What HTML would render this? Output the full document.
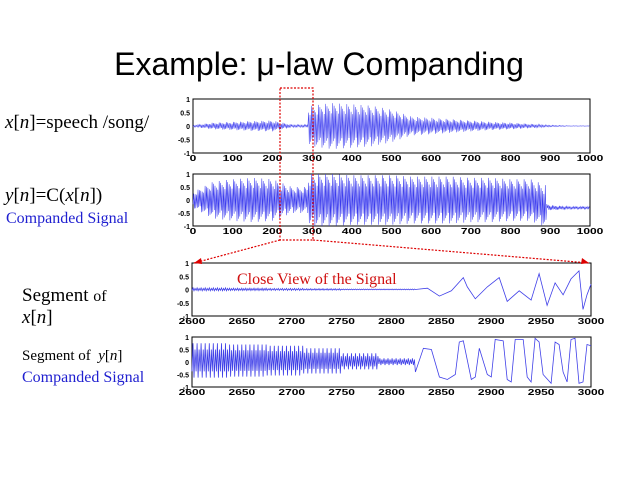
<!DOCTYPE html>
<html><head><meta charset="utf-8"><style>
body{margin:0;background:#fff;width:638px;height:478px;overflow:hidden;font-family:"Liberation Serif",serif}
.t{position:absolute;white-space:nowrap}
</style></head><body>
<div style="position:relative;width:638px;height:478px">
<div class="t" style="left:0;width:638px;text-align:center;top:46px;font-family:'Liberation Sans',sans-serif;font-size:32px">Example: μ-law Companding</div>
<div class="t" style="left:5px;top:112px;font-size:19px"><i>x</i>[<i>n</i>]=speech /song/</div>
<div class="t" style="left:5px;top:185px;font-size:19px"><i>y</i>[<i>n</i>]=C(<i>x</i>[<i>n</i>])</div>
<div class="t" style="left:6px;top:210px;font-size:16px;color:#1f1fd0">Companded Signal</div>
<div class="t" style="left:22px;top:285px;font-size:19px">Segment <span style="font-size:16px">of</span><br><i>x</i>[<i>n</i>]</div>
<div class="t" style="left:22px;top:348px;font-size:15px">Segment of&nbsp; <i>y</i>[<i>n</i>]</div>
<div class="t" style="left:22px;top:369px;font-size:16px;color:#1f1fd0">Companded Signal</div>
<svg id="s" width="638" height="478" style="position:absolute;left:0;top:0"></svg>
</div>
<script>
const env1=[0.03,0.12,0.15,0.18,0.2,0.05,0.75,0.85,0.8,0.75,0.6,0.35,0.3,0.25,0.2,0.15,0.12,0.08,0.03,0.01];
const env2=[0.3,0.7,0.8,0.85,0.8,0.5,1,1,0.95,0.95,0.95,0.9,0.9,0.9,0.85,0.85,0.8,0.8,0.1,0.05];
const ctr2=[0,0,0,0,0,0,0,0,0,0,0,0,0,0,0,0,0,0,-0.3,-0.3];
const ticks1=["0","100","200","300","400","500","600","700","800","900","1000"];
const ticksSeg=["2600","2650","2700","2750","2800","2850","2900","2950","3000"];
const yTicks=["1","0.5","0","-0.5","-1"];
const seg3Noise=[0.06,0.05,0.04,0.03,0.02,0.02];
const seg3Idx=[56,59,62,65,68,69,71,74,77,79,82,85,87,89,91,93,95,97,98,99,100];
const seg3Val=[0,0.05,-0.25,-0.05,0.45,0.1,-0.35,0.1,0.45,-0.45,-0.05,-0.4,0.6,-0.6,0.25,-0.2,0.4,0.7,-0.75,-0.2,0.2];
const seg4Noise=[0.75,0.7,0.65,0.55,0.35,0.15];
const seg4Idx=[56,58,60,62,64,66,67,68,70,71,72,74,75,76,78,79,80,81,83,84,85,86,87,88,90,91,92,93,94,95,96,97,98,99,100];
const seg4Val=[-0.4,0.55,0.5,-0.6,-0.7,-0.5,0.8,0.85,-0.7,-0.6,0.55,-0.5,-0.6,0.9,0.85,-0.7,-0.8,0.9,0.9,-0.6,-0.8,0.95,0.8,-0.5,-0.85,0.8,0.7,-0.4,-0.8,0.9,0.95,-0.85,-0.8,0.7,0.65];
const NS="http://www.w3.org/2000/svg",svg=document.getElementById('s');
function mk(t,a,p){const e=document.createElementNS(NS,t);for(const k in a)e.setAttribute(k,a[k]);(p||svg).appendChild(e);return e;}
const plots=[{x0:193,x1:590,y0:99,y1:153,n:'plot-x'},{x0:193,x1:590,y0:174,y1:226,n:'plot-y'},{x0:192,x1:591,y0:263,y1:316,n:'plot-seg-x'},{x0:192,x1:591,y0:337,y1:387,n:'plot-seg-y'}];
function frame(p,ticks){
 const g=mk('g',{});
 
 
 const r=mk('rect',{x:p.x0,y:p.y0,width:p.x1-p.x0,height:p.y1-p.y0,fill:'none',stroke:'#000','stroke-width':1},g);
 
 ticks.forEach((t,i)=>{const x=p.x0+(p.x1-p.x0)*i/(ticks.length-1);
  const tx=mk('text',{x:x,y:p.y1+8,'font-size':8,'font-weight':'bold','text-anchor':'middle','font-family':'Liberation Sans,sans-serif',transform:`translate(${x},0) scale(1.5,1) translate(${-x},0)`},g);
  tx.textContent=t;});
 yTicks.forEach((t,i)=>{const y=p.y0+(p.y1-p.y0)*i/4;
  const tx=mk('text',{x:p.x0-3,y:y+3,'font-size':7,'font-weight':'bold','text-anchor':'end','font-family':'Liberation Sans,sans-serif'},g);
  tx.textContent=t;});
 return g;}
function ymap(p,v){return (p.y0+p.y1)/2-v*(p.y1-p.y0)/2;}
function lerp(arr,f){const b=Math.min(Math.floor(f),arr.length-1),n=Math.min(b+1,arr.length-1),t=f-b;
 // sharp step at onset jumps, otherwise blend
 return Math.abs(arr[n]-arr[b])>0.4?(t>0.8?arr[n]:arr[b]):arr[b]*(1-t)+arr[n]*t;}
function drawEnv(p,env,ctr,col,g){
 let pts=[];const N=560;
 for(let i=0;i<N;i++){const f=i/N*env.length;
  const a=lerp(env,f),c=ctr?lerp(ctr,f):0;const s=(i%2?1:-1)*(0.55+0.45*((i*7)%5)/4);
  pts.push((p.x0+(p.x1-p.x0)*i/N).toFixed(1)+','+ymap(p,c+a*s).toFixed(1));}
 const l=mk('polyline',{points:pts.join(' '),fill:'none',stroke:col,'stroke-width':0.55},g);
 }
function drawSeg(p,noise,idx,val,g){
 let pts=[];const N=220,end=idx[0];
 for(let i=0;i<N;i++){const f=i/N*end,b=Math.floor(f/end*noise.length);
  const s=(i%2?1:-1)*(0.5+0.5*((i*3)%4)/3);
  pts.push((p.x0+(p.x1-p.x0)*f/100).toFixed(1)+','+ymap(p,noise[b]*s).toFixed(1));}
 idx.forEach((ix,k)=>pts.push((p.x0+(p.x1-p.x0)*ix/100).toFixed(1)+','+ymap(p,val[k]).toFixed(1)));
 const l=mk('polyline',{points:pts.join(' '),fill:'none',stroke:'#4040e8','stroke-width':0.8},g);
 }
let g=frame(plots[0],ticks1);drawEnv(plots[0],env1,null,'#4a4af0',g);
g=frame(plots[1],ticks1);drawEnv(plots[1],env2,ctr2,'#3a3aee',g);
g=frame(plots[2],ticksSeg);drawSeg(plots[2],seg3Noise,seg3Idx,seg3Val,g);
g=frame(plots[3],ticksSeg);drawSeg(plots[3],seg4Noise,seg4Idx,seg4Val,g);
const rb=mk('rect',{x:280,y:88,width:33,height:152,fill:'none',stroke:'#d00','stroke-width':1.2,'stroke-dasharray':'2,1.5'});

[[280,240,194,263],[313,240,589,263]].forEach(c=>{const l=mk('line',{x1:c[0],y1:c[1],x2:c[2],y2:c[3],stroke:'#d00','stroke-width':1.2,'stroke-dasharray':'2,1.5'});
 
 const d=c[2]>c[0]?-1:1;const a=mk('polygon',{points:`${c[2]},${c[3]} ${c[2]+d*7},${c[3]-5} ${c[2]+d*8},${c[3]+1}`,fill:'#d00'});
 });
const ct=mk('text',{x:237,y:284,'font-size':16,fill:'#d01010','font-family':'Liberation Serif,serif'});
ct.textContent='Close View of the Signal';
</script></body></html>
